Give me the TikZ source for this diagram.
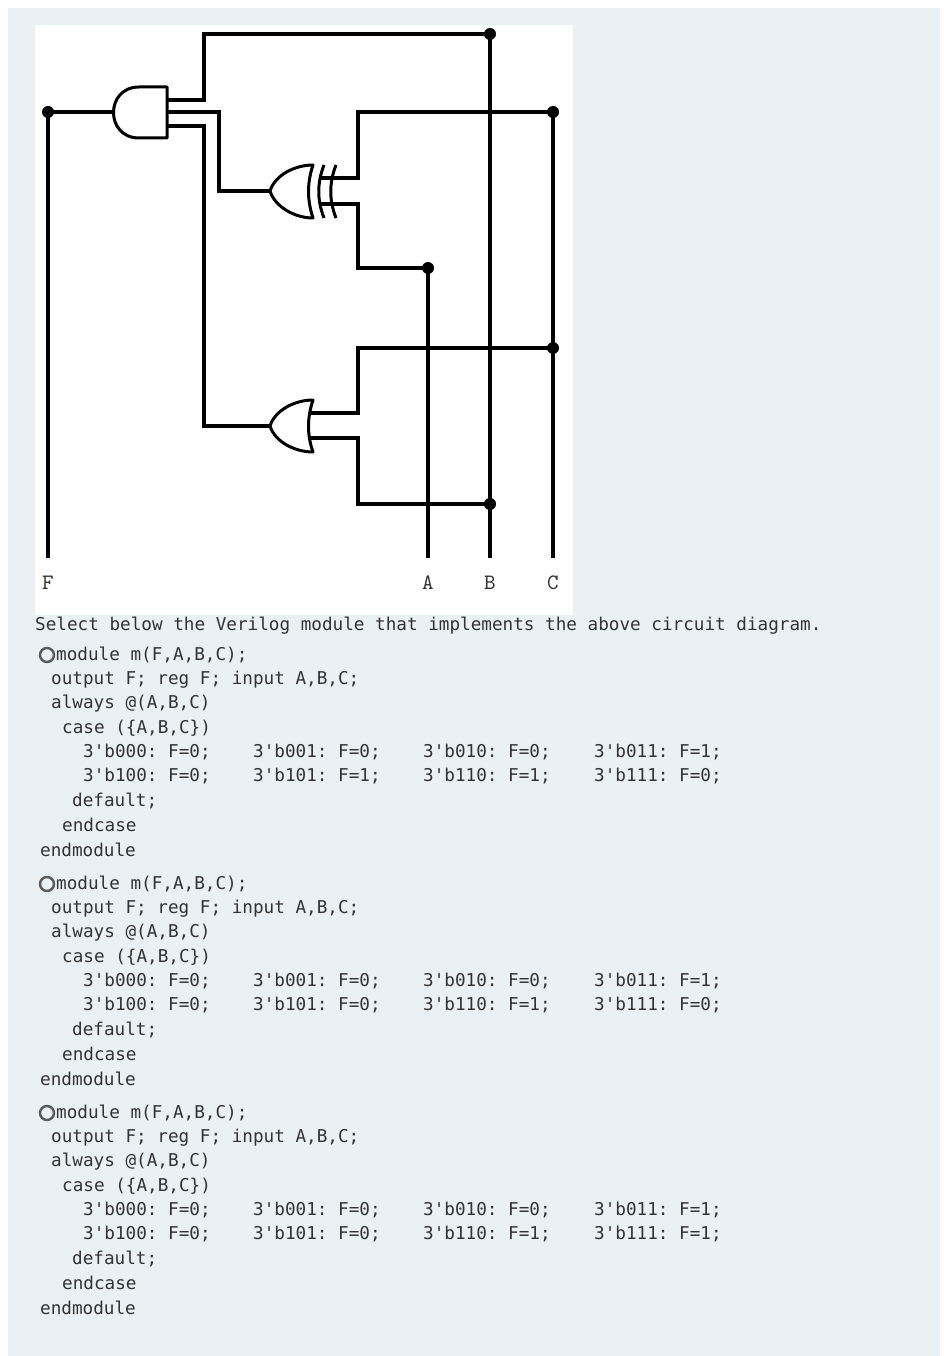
\documentclass[tikz,border=0pt]{standalone}
\usepackage{fontspec}
\setmonofont{DejaVu Sans Mono}
\setmainfont{DejaVu Sans Mono}
\newfontfamily\lblfont{lmmono10-regular.otf}
\definecolor{bgc}{RGB}{233,241,244}
\begin{document}
\begin{tikzpicture}[x=1pt,y=-1pt,
  wire/.style={line width=3.6pt,line cap=rect},
  gate/.style={line width=3pt,line join=round},
  dotc/.style={circle,fill=black,inner sep=0pt,minimum size=12pt},
  lbl/.style={font=\lblfont\fontsize{22}{22}\selectfont,inner sep=0pt,text=black!80},
  code/.style={anchor=west,inner sep=0pt,text=black!80,font=\ttfamily\fontsize{17.65}{20}\selectfont},
  radio/.style={circle,draw=black!65,line width=2.4pt,inner sep=0pt,minimum size=14pt}]
\useasboundingbox (0,0) rectangle (944,1356);
\fill[white] (0,0) rectangle (944,1356);
\fill[bgc] (8,8) rectangle (940,1356);
\fill[white] (35,25) rectangle (573,615);
% dots
\node[dotc] (dF) at (48,112) {};
\node[dotc] (dB1) at (490,34) {};
\node[dotc] (dC1) at (553,112) {};
\node[dotc] (dA1) at (428,268) {};
\node[dotc] (dC2) at (553,348) {};
\node[dotc] (dB2) at (490,504) {};
\coordinate (eF) at (48,556);
\coordinate (eA) at (428,556);
\coordinate (eB) at (490,556);
\coordinate (eC) at (553,556);
% wires
\draw[wire] (dF) -- (113,112);
\draw[wire] (dF) -- (eF);
\draw[wire] (167,100) -- (204,100) -- (204,34) -- (dB1);
\draw[wire] (167,112) -- (219,112) -- (219,191) -- (270,191);
\draw[wire] (167,126) -- (204,126) -- (204,426) -- (270,426);
\draw[wire] (323,178) -- (358,178) -- (358,112) -- (dC1);
\draw[wire] (323,204) -- (358,204) -- (358,268) -- (dA1);
\draw[wire] (310,413) -- (358,413) -- (358,348) -- (dC2);
\draw[wire] (310,438) -- (358,438) -- (358,504) -- (dB2);
\draw[wire] (dB1) -- (eB);
\draw[wire] (dC1) -- (eC);
\draw[wire] (dA1) -- (eA);
% AND gate (output left)
\draw[gate,fill=white] (167,87) -- (167,138) -- (139,138) .. controls (105,138) and (105,87) .. (139,87) -- cycle;
% XOR gate
\draw[gate,fill=white] (313,165) .. controls (295,165) and (275,175) .. (270,191) .. controls (275,207) and (295,218) .. (313,218) .. controls (307,200) and (307,183) .. (313,165) -- cycle;
\draw[gate] (324,165) .. controls (317,183) and (317,200) .. (324,218);
\draw[gate] (336,165) .. controls (329,183) and (329,200) .. (336,218);
% OR gate
\draw[gate,fill=white] (313,400) .. controls (295,400) and (275,410) .. (270,426) .. controls (275,442) and (295,452) .. (313,452) .. controls (307,435) and (307,418) .. (313,400) -- cycle;
% labels
\node[lbl] (lF) at (48,583) {F};
\node[lbl] (lA) at (428,583) {A};
\node[lbl] (lB) at (490,583) {B};
\node[lbl] (lC) at (553,583) {C};
\node[code] (q) at (35,626) {Select below the Verilog module that implements the above circuit diagram.};
\newcommand\vblock[9]{%
  \node[radio] (r#1) at (47,#1) {};
  \node[code] at (56,#1) {module m(F,A,B,C);};
  \node[code] at (51,#1+24.3) {output F; reg F; input A,B,C;};
  \node[code] at (51,#1+48.6) {always @(A,B,C)};
  \node[code] at (62,#1+72.9) {case (\{A,B,C\})};
  \node[code] at (83,#1+97.2) {3'b000: F=#2;};
  \node[code] at (253,#1+97.2) {3'b001: F=#3;};
  \node[code] at (423,#1+97.2) {3'b010: F=#4;};
  \node[code] at (594,#1+97.2) {3'b011: F=#5;};
  \node[code] at (83,#1+121.5) {3'b100: F=#6;};
  \node[code] at (253,#1+121.5) {3'b101: F=#7;};
  \node[code] at (423,#1+121.5) {3'b110: F=#8;};
  \node[code] at (594,#1+121.5) {3'b111: F=#9;};
  \node[code] at (72,#1+145.8) {default;};
  \node[code] at (62,#1+170.1) {endcase};
  \node[code] at (40,#1+194.4) {endmodule};
}
\vblock{655}{0}{0}{0}{1}{0}{1}{1}{0}
\vblock{884}{0}{0}{0}{1}{0}{0}{1}{0}
\vblock{1113}{0}{0}{0}{1}{0}{0}{1}{1}
\end{tikzpicture}
\end{document}
